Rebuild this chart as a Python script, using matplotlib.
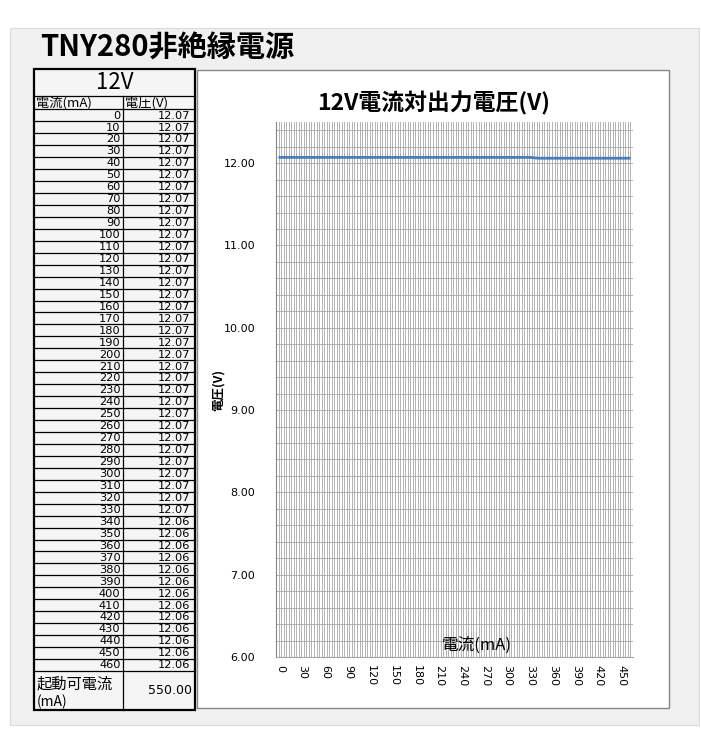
import numpy as np
import matplotlib.pyplot as plt
from matplotlib.patches import Rectangle

plt.rcParams['font.family'] = ['Noto Sans CJK JP', 'DejaVu Sans']

page_title = 'TNY280非絶縁電源'
chart_title = '12V電流対出力電圧(V)'
table_head = '12V'
col_names = ['電流(mA)', '電圧(V)']
current_ma = [0, 10, 20, 30, 40, 50, 60, 70, 80, 90, 100, 110, 120, 130, 140, 150,
              160, 170, 180, 190, 200, 210, 220, 230, 240, 250, 260, 270, 280, 290,
              300, 310, 320, 330, 340, 350, 360, 370, 380, 390, 400, 410, 420, 430,
              440, 450, 460]
voltage_v = [12.07, 12.07, 12.07, 12.07, 12.07, 12.07, 12.07, 12.07, 12.07, 12.07,
             12.07, 12.07, 12.07, 12.07, 12.07, 12.07, 12.07, 12.07, 12.07, 12.07,
             12.07, 12.07, 12.07, 12.07, 12.07, 12.07, 12.07, 12.07, 12.07, 12.07,
             12.07, 12.07, 12.07, 12.07, 12.06, 12.06, 12.06, 12.06, 12.06, 12.06,
             12.06, 12.06, 12.06, 12.06, 12.06, 12.06, 12.06]
start_label = ['起動可電流', '(mA)']
start_current = 550.00

W, H = 701, 735
fig = plt.figure(figsize=(W / 100, H / 100), dpi=100)
fig.patch.set_facecolor('white')

# pixel overlay for sheet, table, boxes
bg = fig.add_axes([0, 0, 1, 1])
bg.set_xlim(0, W)
bg.set_ylim(H, 0)
bg.axis('off')

bg.add_patch(Rectangle((10, 28), 689, 697, fc='#f0f0f0', ec='#dcdcdc', lw=0.8))
bg.text(40, 47, page_title, fontsize=21, fontweight='bold', va='center', ha='left')

# chart box
bg.add_patch(Rectangle((197, 70), 472, 638, fc='white', ec='#868686', lw=1.0))

# table
tl, tr, tdiv = 34, 195, 122.5
row_top, row_h = 109.3, 11.95
cell_bg = '#f5f5f5'
bg.add_patch(Rectangle((tl, 69), tr - tl, 710 - 69, fc=cell_bg, ec='none'))
bg.text((tl + tr) / 2, 82, table_head, fontsize=16, ha='center', va='center')
bg.plot([tl, tr], [96, 96], color='black', lw=0.9)
bg.plot([tdiv, tdiv], [96, 710], color='black', lw=0.9)
bg.text(36, 102.5, col_names[0], fontsize=9.5, ha='left', va='center')
bg.text(tdiv + 2, 102.5, col_names[1], fontsize=9.5, ha='left', va='center')
nrows = len(current_ma)
for i in range(nrows + 1):
    y = row_top + i * row_h
    bg.plot([tl, tr], [y, y], color='black', lw=0.9)
for i, (c, v) in enumerate(zip(current_ma, voltage_v)):
    yc = row_top + (i + 0.5) * row_h + 0.3
    bg.text(tdiv - 2, yc, str(c), fontsize=8.2, ha='right', va='center',
            family='DejaVu Sans')
    bg.text(tr - 5, yc, f'{v:.2f}', fontsize=8.2, ha='right', va='center',
            family='DejaVu Sans')
bg.text(37, 684, start_label[0], fontsize=11, ha='left', va='center')
bg.text(37, 702, start_label[1], fontsize=10, ha='left', va='center')
bg.text(tr - 3, 691, f'{start_current:.2f}', fontsize=9, ha='right',
        va='center', family='DejaVu Sans')
bg.add_patch(Rectangle((tl, 69), tr - tl, 710 - 69, fc='none', ec='black', lw=1.6))

# chart
x0, x1, ytop, ybot = 276, 633, 122, 657
ax = fig.add_axes([x0 / W, 1 - ybot / H, (x1 - x0) / W, (ybot - ytop) / H])
ax.patch.set_alpha(0)
xs = np.arange(len(current_ma))
ax.plot(xs, voltage_v, color='#4a7ebb', lw=2.0, zorder=3)
ax.set_xlim(-0.5, len(current_ma) - 0.5)
ax.set_ylim(6, 12.5)
ax.set_xticks(xs[::3])
ax.set_xticklabels([str(c) for c in current_ma[::3]], rotation=-90, fontsize=8,
                   family='DejaVu Sans')
ax.set_xticks(np.arange(-0.5, len(current_ma) - 0.49, 1 / 3), minor=True)
ax.set_yticks(np.arange(6, 12.01, 1.0))
ax.set_yticklabels([f'{t:.2f}' for t in np.arange(6, 12.01, 1.0)], fontsize=8,
                   family='DejaVu Sans')
ax.set_yticks(np.arange(6, 12.41, 0.2), minor=True)
ax.grid(which='minor', color='#a6a6a6', lw=0.6)
ax.grid(which='major', axis='y', color='#a6a6a6', lw=0.6)
ax.tick_params(which='both', length=0)
ax.tick_params(axis='y', pad=15)
ax.tick_params(axis='x', pad=6)
for s in ['top', 'right']:
    ax.spines[s].set_visible(False)
ax.spines['left'].set_color('#868686')
ax.spines['bottom'].set_color('#a6a6a6')
ax.set_axisbelow(True)

bg.text(434, 103, chart_title, fontsize=16.5, fontweight='bold', ha='center', va='center')
bg.text(218, 390, '電圧(V)', fontsize=9, fontweight='bold', rotation=90,
        ha='center', va='center')
ax.text(477, 645, '電流(mA)', fontsize=12, ha='center', va='center', zorder=5,
        transform=bg.transData)

fig.savefig('out.png', dpi=100)
